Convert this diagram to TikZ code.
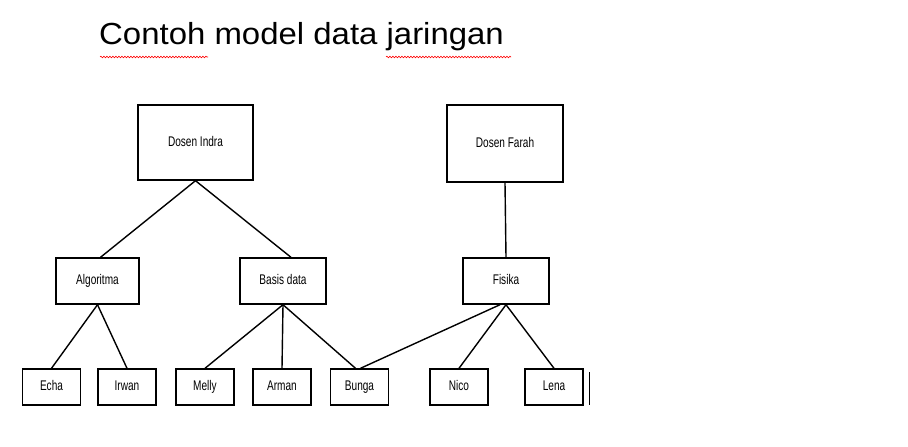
\documentclass[tikz,border=0pt]{standalone}
\usepackage{fontspec}
\setmainfont{Liberation Sans}
\usetikzlibrary{decorations.pathmorphing}
\begin{document}
\begin{tikzpicture}[x=1pt,y=-1pt,
  bx/.style={draw,line width=1.4pt,minimum width=#1,inner sep=0pt,text height=10pt,text depth=3pt,font=\fontsize{14}{16}\selectfont},
  bx/.default=58pt,
  ln/.style={line width=1.4pt},
  wavy/.style={red,line width=0.6pt,decorate,decoration={snake,amplitude=0.8pt,segment length=3pt}}]
\useasboundingbox (0,0) rectangle (908,447);
\node[anchor=west,font=\fontsize{30.5}{34}\selectfont,inner sep=0pt] (title) at (99,37) {\scalebox{1.08}[1]{Contoh model data jaringan}};
\draw[wavy] (100,57) -- (208,57);
\draw[wavy] (386,57) -- (511,57);
\node[bx=115pt,minimum height=75pt] (di) at (195.5,142.5) {\scalebox{0.72}[1]{Dosen Indra}};
\node[bx=116pt,minimum height=77pt] (df) at (505,143.5) {\scalebox{0.72}[1]{Dosen Farah}};
\node[bx=83pt,minimum height=46pt] (al) at (97.5,281) {\scalebox{0.72}[1]{Algoritma}};
\node[bx=86pt,minimum height=46pt] (bd) at (283,281) {\scalebox{0.72}[1]{Basis data}};
\node[bx=86pt,minimum height=46pt] (fi) at (506,281) {\scalebox{0.72}[1]{Fisika}};
\foreach \n/\t/\x in {ec/Echa/51.5,ir/Irwan/127,me/Melly/205,ar/Arman/282,bu/Bunga/359.5,ni/Nico/459,le/Lena/554}
  \node[bx=58pt,minimum height=36pt] (\n) at (\x,387) {\scalebox{0.72}[1]{\t}};
\draw[ln] (di.south) -- ([xshift=3pt]al.north);
\draw[ln] (di.south) -- ([xshift=8pt]bd.north);
\draw[ln] (df.south) -- (fi.north);
\draw[ln] (al.south) -- (ec.north);
\draw[ln] (al.south) -- (ir.north);
\draw[ln] (bd.south) -- (me.north);
\draw[ln] (bd.south) -- (ar.north);
\draw[ln] (bd.south) -- ([xshift=-4pt]bu.north);
\draw[ln] ([xshift=-6pt]fi.south) -- ([xshift=1pt]bu.north);
\draw[ln] (fi.south) -- (ni.north);
\draw[ln] (fi.south) -- (le.north);
\coordinate (e1) at (589,372); \coordinate (e2) at (589,405);
\draw[line width=0.8pt] (e1) -- (e2);
\end{tikzpicture}
\end{document}
